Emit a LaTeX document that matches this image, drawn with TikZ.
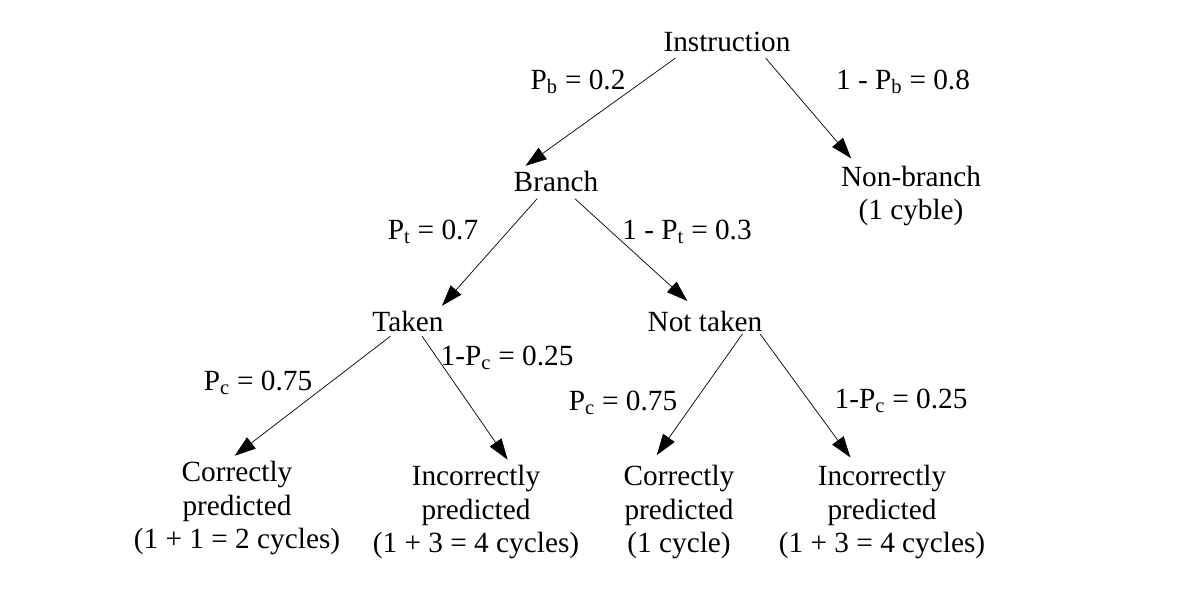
\documentclass[tikz,border=0pt]{standalone}
\usepackage{fontspec}
\setmainfont{Liberation Serif}
\usetikzlibrary{arrows.meta,positioning}
\tikzset{
  lbl/.style={font=\fontsize{25}{29}\selectfont,inner sep=0pt},
  st/.style={lbl,align=center},
  br/.style={-{Triangle[length=18pt,width=12pt]},line width=0.6pt},
}
\newcommand{\sub}[1]{\textsubscript{#1}}
\begin{document}
\begin{tikzpicture}[x=0.03cm,y=-0.03cm]
    \useasboundingbox (0,0) rectangle (1189,591);
    % states
    \node[st] (instr) at (727,42) {Instruction};
    \node[st] (branch) at (556,181) {Branch};
    \node[st] (nonbr) at (911,196) {Non-branch\\(1 cyble)};
    \node[st] (taken) at (408,321) {Taken};
    \node[st] (ntaken) at (705,321) {Not taken};
    \node[st] (tc) at (237,508) {Correctly\\predicted\\(1 + 1 = 2 cycles)};
    \node[st] (ti) at (476,512) {Incorrectly\\predicted\\(1 + 3 = 4 cycles)};
    \node[st] (nc) at (679,512) {Correctly\\predicted\\(1 cycle)};
    \node[st] (ni) at (882,512) {Incorrectly\\predicted\\(1 + 3 = 4 cycles)};
    % probabilities
    \node[lbl] at (578,82) {P\sub{b} = 0.2};
    \node[lbl] at (903,82) {1 - P\sub{b} = 0.8};
    \node[lbl] at (433,232) {P\sub{t} = 0.7};
    \node[lbl] at (687,232) {1 - P\sub{t} = 0.3};
    \node[lbl] at (258,383) {P\sub{c} = 0.75};
    \node[lbl] at (507,358) {1-P\sub{c} = 0.25};
    \node[lbl] at (623,403) {P\sub{c} = 0.75};
    \node[lbl] at (901,401) {1-P\sub{c} = 0.25};
    % edges
    \draw[br] ([xshift=-44pt]instr.south) ++(0,6) -- ([xshift=-26pt,yshift=4pt]branch.north);
    \draw[br] ([xshift=33pt]instr.south) ++(0,6) -- ([xshift=-51pt,yshift=6pt]nonbr.north);
    \draw[br] ([xshift=-16pt,yshift=-6pt]branch.south) -- ([xshift=29pt,yshift=4pt]taken.north);
    \draw[br] ([xshift=16pt,yshift=-6pt]branch.south) -- ([xshift=-15pt,yshift=8pt]ntaken.north);
    \draw[br] ([xshift=-15pt,yshift=-4pt]taken.south) -- ([xshift=-2pt,yshift=4pt]tc.north);
    \draw[br] ([xshift=12pt,yshift=-4pt]taken.south) -- ([xshift=27pt,yshift=4pt]ti.north);
    \draw[br] ([xshift=32pt,yshift=-2pt]ntaken.south) -- ([xshift=-19pt,yshift=8pt]nc.north);
    \draw[br] ([xshift=47pt,yshift=-2pt]ntaken.south) -- ([xshift=-27pt,yshift=6pt]ni.north);
\end{tikzpicture}
\end{document}
